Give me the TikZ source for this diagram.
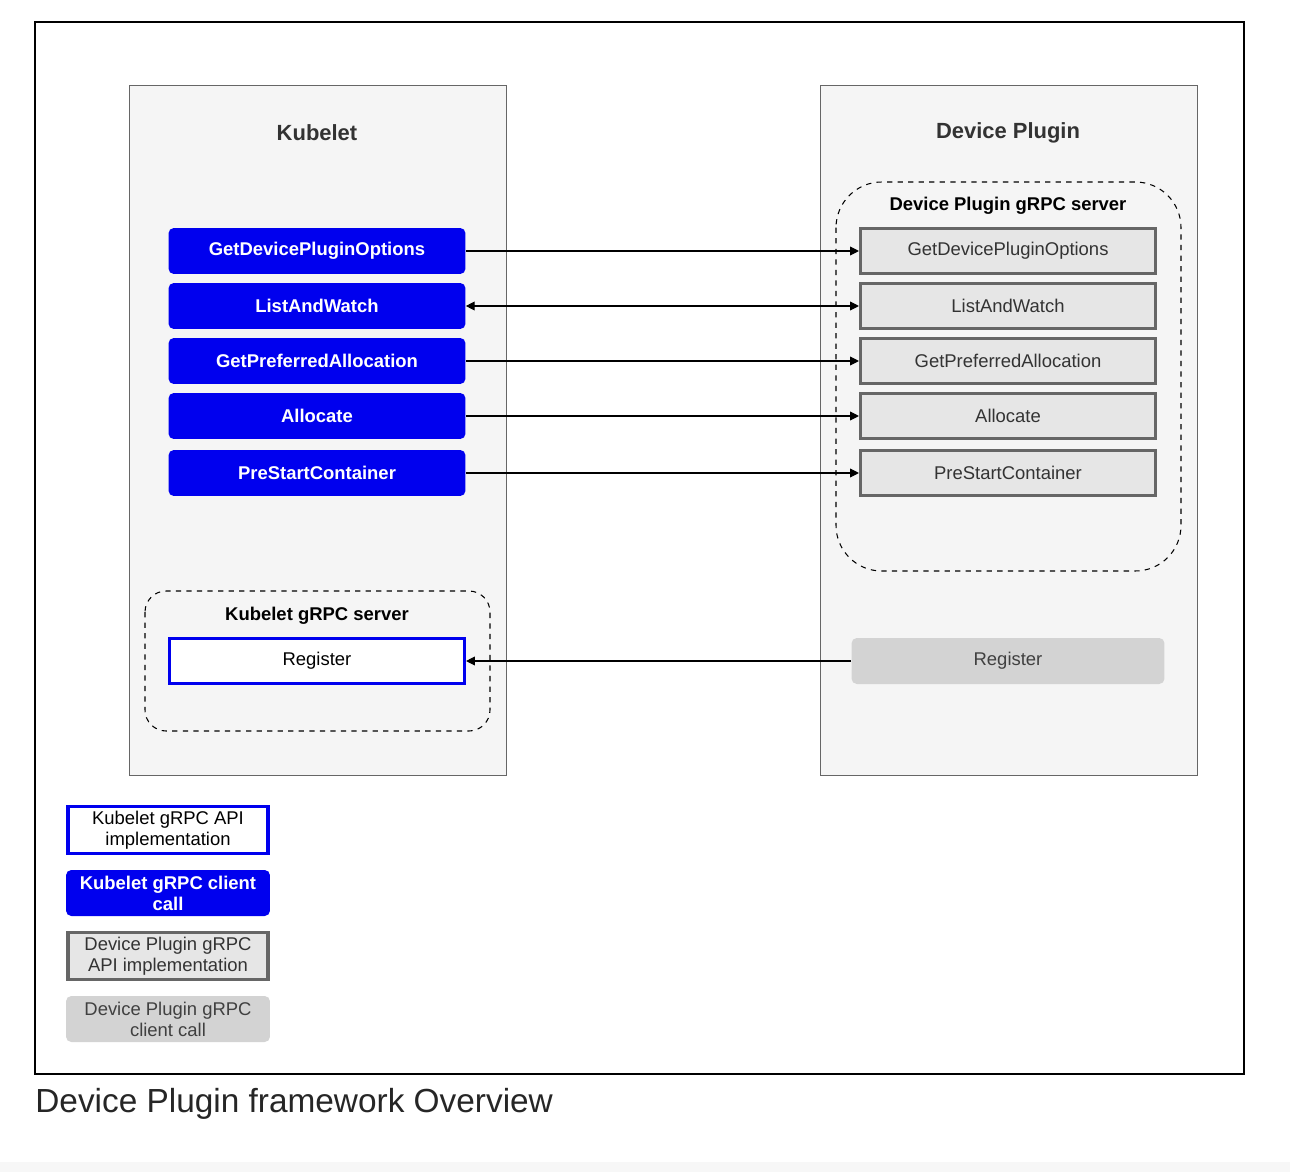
\documentclass[tikz,border=0pt]{standalone}
\usepackage{fontspec}
\setmainfont{Liberation Sans}
\usetikzlibrary{positioning,arrows.meta}
\definecolor{kblue}{RGB}{0,0,238}
\definecolor{boxgray}{RGB}{245,245,245}
\definecolor{implgray}{RGB}{230,230,230}
\definecolor{callgray}{RGB}{211,211,211}
\definecolor{edgegray}{RGB}{102,102,102}
\tikzset{
  lbl/.style={font=\fontsize{10.5}{12}\selectfont},
  client/.style={lbl, rounded corners=3pt, fill=kblue, text=white, font=\fontsize{10.5}{12}\selectfont\bfseries, minimum width=5.94cm, minimum height=0.92cm, align=center, inner sep=1pt},
  kimpl/.style={lbl, draw=kblue, line width=1.8pt, fill=white, minimum width=5.9cm, minimum height=0.9cm, align=center, inner sep=1pt},
  dimpl/.style={lbl, draw=edgegray, line width=1.8pt, fill=implgray, text=black!80, minimum width=5.9cm, minimum height=0.9cm, align=center, inner sep=1pt},
  dcall/.style={lbl, rounded corners=3pt, fill=callgray, text=black!75, minimum width=6.26cm, minimum height=0.92cm, align=center, inner sep=1pt},
  panel/.style={draw=edgegray, fill=boxgray},
  server/.style={draw=black, dashed, line width=0.6pt},
  call/.style={-{Triangle[length=5pt,width=5pt]}, line width=0.6pt},
}
\begin{document}
\begin{tikzpicture}[x=0.02cm, y=-0.02cm]
\useasboundingbox (0,0) rectangle (1290,1172);
\fill[black!3] (0,1162) rectangle (1290,1172);
\draw[line width=0.6pt] (35,22) rectangle (1244,1074);

% panels
\draw[panel] (129,85) rectangle (506,775);
\draw[panel] (820,85) rectangle (1197,775);
\node[font=\fontsize{12.5}{14}\selectfont\bfseries, text=black!80] (kubelet) at (317,133) {Kubelet};
\node[font=\fontsize{12.5}{14}\selectfont\bfseries, text=black!80] (plugin) at (1008,133) {Device Plugin};

% servers
\draw[server, rounded corners=26pt] (836,182) rectangle (1181,571);
\node[lbl, font=\fontsize{10.5}{12}\selectfont\bfseries] (dpserver) at (1008,206) {Device Plugin gRPC server};
\draw[server, rounded corners=12pt] (145,591) rectangle (490,731);
\node[lbl, font=\fontsize{10.5}{12}\selectfont\bfseries] (kserver) at (317,616) {Kubelet gRPC server};

% calls
\foreach \name/\y in {GetDevicePluginOptions/251, ListAndWatch/306, GetPreferredAllocation/361, Allocate/416, PreStartContainer/473}
{
  \node[client] (k\name) at (317,\y) {\name};
  \node[dimpl] (d\name) at (1008,\y) {\name};
}
\draw[call] (kGetDevicePluginOptions) -- (dGetDevicePluginOptions);
\draw[call, {Triangle[length=5pt,width=5pt]}-{Triangle[length=5pt,width=5pt]}] (kListAndWatch) -- (dListAndWatch);
\draw[call] (kGetPreferredAllocation) -- (dGetPreferredAllocation);
\draw[call] (kAllocate) -- (dAllocate);
\draw[call] (kPreStartContainer) -- (dPreStartContainer);

% register
\node[kimpl] (kregister) at (317,661) {Register};
\node[dcall] (dregister) at (1008,661) {Register};
\draw[call] (dregister) -- (kregister);

% legend
\node[kimpl, minimum width=4.0cm, minimum height=0.94cm, font=\fontsize{10.5}{12}\selectfont] (legkimpl) at (168,830) {Kubelet gRPC API\\implementation};
\node[client, minimum width=4.08cm, font=\fontsize{10.5}{12}\selectfont\bfseries] (legclient) at (168,893) {Kubelet gRPC client\\call};
\node[dimpl, minimum width=4.0cm, minimum height=0.94cm, font=\fontsize{10.5}{12}\selectfont] (legdimpl) at (168,956) {Device Plugin gRPC\\API implementation};
\node[dcall, minimum width=4.08cm, font=\fontsize{10.5}{12}\selectfont] (legdcall) at (168,1019) {Device Plugin gRPC\\client call};

% caption
\node[anchor=west, font=\fontsize{19}{21}\selectfont, text=black!85, inner sep=0pt] (caption) at (35,1104) {Device Plugin framework Overview};
\end{tikzpicture}
\end{document}
